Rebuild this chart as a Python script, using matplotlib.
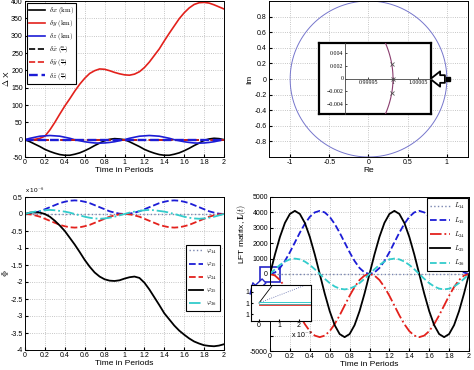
import numpy as np
import matplotlib
matplotlib.use("Agg")
import matplotlib.pyplot as plt
from matplotlib.patches import Rectangle

plt.rcParams["font.family"] = ["Liberation Sans", "DejaVu Sans"]
plt.rcParams["mathtext.fontset"] = "cm"
plt.rcParams["axes.unicode_minus"] = False
plt.rcParams["xtick.direction"] = "in"
plt.rcParams["ytick.direction"] = "in"
plt.rcParams["xtick.labelsize"] = 5
plt.rcParams["ytick.labelsize"] = 5
plt.rcParams["axes.linewidth"] = 0.7

# ---- time grid (periods) ----
t = np.linspace(0, 2, 41)

# ---- top-left: relative position / velocity ----
dx = [0, -6, -13, -20, -28, -34, -39, -43, -45, -45, -42, -38, -32, -25, -17, -10, -3, 1, 3, 2, 0,
      -6, -13, -20, -28, -34, -39, -43, -45, -45, -42, -38, -32, -25, -17, -10, -2, 2, 4, 3, 0]
dy = [0, 0, 1, 4, 10, 28, 50, 74, 97, 118, 140, 160, 177, 191, 199, 204, 203, 199, 194, 190, 187,
      186, 189, 196, 208, 224, 243, 262, 285, 307, 328, 349, 366, 380, 390, 395, 396, 394, 389, 383, 377]
dz = [0, 4, 7, 10, 11, 12, 11, 10, 7, 4, 0, -3, -6, -8, -9.5, -10, -9.5, -8, -6, -3, 0,
      4, 7, 10, 11, 12, 11, 10, 7, 4, 0, -3, -6, -8, -9.5, -10, -9.5, -8, -6, -3, 0]
dvx = [0] * 41
dvy = [0] * 41
dvz = [0] * 41

# ---- bottom-left: phi components (units of 1e-6) ----
phi14 = [0] * 41
phi15 = [0, 0.01, 0.04, 0.08, 0.14, 0.2, 0.26, 0.32, 0.36, 0.39, 0.4, 0.39, 0.36, 0.32, 0.26, 0.2, 0.14, 0.08, 0.04, 0.01, 0,
         0.01, 0.04, 0.08, 0.14, 0.2, 0.26, 0.32, 0.36, 0.39, 0.4, 0.39, 0.36, 0.32, 0.26, 0.2, 0.14, 0.08, 0.04, 0.01, 0]
phi24 = [0, -0.01, -0.04, -0.08, -0.14, -0.2, -0.26, -0.32, -0.36, -0.39, -0.4, -0.39, -0.36, -0.32, -0.26, -0.2, -0.14, -0.08, -0.04, -0.01, 0,
         -0.01, -0.04, -0.08, -0.14, -0.2, -0.26, -0.32, -0.36, -0.39, -0.4, -0.39, -0.36, -0.32, -0.26, -0.2, -0.14, -0.08, -0.04, -0.01, 0]
phi25 = [0, 0.04, 0.05, 0.04, 0.0, -0.08, -0.2, -0.34, -0.5, -0.7, -0.9, -1.12, -1.35, -1.55, -1.72, -1.84, -1.92, -1.96, -1.97, -1.95, -1.9,
         -1.86, -1.84, -1.88, -2.02, -2.22, -2.45, -2.68, -2.92, -3.1, -3.28, -3.43, -3.55, -3.66, -3.75, -3.81, -3.86, -3.88, -3.89, -3.87, -3.83]
phi36 = [0, 0.04, 0.07, 0.09, 0.11, 0.12, 0.11, 0.09, 0.07, 0.04, 0, -0.04, -0.08, -0.11, -0.13, -0.14, -0.13, -0.11, -0.08, -0.04, 0,
         0.04, 0.07, 0.09, 0.11, 0.12, 0.11, 0.09, 0.07, 0.04, 0, -0.04, -0.08, -0.11, -0.13, -0.14, -0.13, -0.11, -0.08, -0.04, 0]
phi_ticks = [-4, -3.5, -3, -2.5, -2, -1.5, -1, -0.5, 0, 0.5]
phi_ticklabels = ["-4", "-3.5", "-3", "-2.5", "-2", "-1.5", "-1", "-0.5", "0", "0.5"]

# ---- bottom-right: LFT matrix entries ----
L14 = [0] * 41
L15 = [0, 100, 390, 845, 1415, 2050, 2685, 3255, 3710, 4000, 4100, 4000, 3710, 3255, 2685, 2050, 1415, 845, 390, 100, 0,
       100, 390, 845, 1415, 2050, 2685, 3255, 3710, 4000, 4100, 4000, 3710, 3255, 2685, 2050, 1415, 845, 390, 100, 0]
L24 = [0, -100, -390, -845, -1415, -2050, -2685, -3255, -3710, -4000, -4100, -4000, -3710, -3255, -2685, -2050, -1415, -845, -390, -100, 0,
       -100, -390, -845, -1415, -2050, -2685, -3255, -3710, -4000, -4100, -4000, -3710, -3255, -2685, -2050, -1415, -845, -390, -100, 0]
L25 = [0, 1270, 2410, 3320, 3900, 4100, 3900, 3320, 2410, 1270, 0, -1270, -2410, -3320, -3900, -4100, -3900, -3320, -2410, -1270, 0,
       1270, 2410, 3320, 3900, 4100, 3900, 3320, 2410, 1270, 0, -1270, -2410, -3320, -3900, -4100, -3900, -3320, -2410, -1270, 0]
L36 = [0, 310, 590, 810, 950, 1000, 950, 810, 590, 310, 0, -310, -590, -810, -950, -1000, -950, -810, -590, -310, 0,
       310, 590, 810, 950, 1000, 950, 810, 590, 310, 0, -310, -590, -810, -950, -1000, -950, -810, -590, -310, 0]
L_ticklabels = ["-5000", "", "", "", "", "0", "1000", "2000", "3000", "4000", "5000"]

# zoomed insert of L near t=0 (x 1e-9)
zoom_x = [0, 2.6]
zoom_black = [0, 6.0]
zoom_dot = [0, 1.75]
zoom_cyan = [0.05, 0.05]
zoom_teal = [-0.1, -0.1]
zoom_red = [-0.2, -0.2]

# eigenvalues near +1 (monodromy)
eig_re = [0.9999974, 1.0, 0.9999974]
eig_im = [0.0023, 0.0, -0.0023]

RED = "#e3211c"
BLUE = "#1c1cd6"
CYAN = "#33cccc"
GRID = dict(ls=":", color="#b4b4b4", lw=0.6)
TICKS_T = ["0", "0.2", "0.4", "0.6", "0.8", "1", "1.2", "1.4", "1.6", "1.8", "2"]
MS = r"(\genfrac{}{}{0.4}{2}{\mathrm{m}}{\mathrm{s}})"
W, H = 474, 370


def box(x0, y0, x1, y1):
    # pixel box (top-left origin) -> figure fraction rect
    return [x0 / W, 1 - y1 / H, (x1 - x0) / W, (y1 - y0) / H]


def frame_legend(ax, **kw):
    leg = ax.legend(fancybox=False, edgecolor="black", framealpha=1, **kw)
    leg.get_frame().set_linewidth(0.8)
    return leg


fig = plt.figure(figsize=(4.74, 3.70), dpi=100)

# ============ top-left ============
ax = fig.add_axes(box(25, 1, 224, 157))
ax.plot(t, dx, color="black", lw=1.2, label=r"$\delta x\ \mathrm{(km)}$")
ax.plot(t, dy, color=RED, lw=1.2, label=r"$\delta y\ \mathrm{(km)}$")
ax.plot(t, dz, color=BLUE, lw=1.2, label=r"$\delta z\ \mathrm{(km)}$")
ax.plot(t, dvx, color="black", lw=1.2, ls="--", label=r"$\delta\dot{x}\ " + MS + "$")
ax.plot(t, dvy, color=RED, lw=1.2, ls="--", label=r"$\delta\dot{y}\ " + MS + "$")
ax.plot(t, dvz, color=BLUE, lw=1.7, ls="--", label=r"$\delta\dot{z}\ " + MS + "$")
ax.set_xlim(0, 2)
ax.set_ylim(-50, 400)
ax.set_xticks(np.arange(0, 2.01, 0.2))
ax.set_xticklabels(TICKS_T)
ax.set_yticks(np.arange(-50, 401, 50))
ax.grid(**GRID)
ax.set_xlabel("Time in Periods", fontsize=6, labelpad=1)
ax.set_ylabel(r"$\Delta$ X", fontsize=6)
ax.yaxis.set_label_coords(-0.07, 0.5)
ax.tick_params(pad=1.5, length=2)
frame_legend(ax, loc="upper left", fontsize=5, handlelength=2.3, borderaxespad=0.3,
             labelspacing=0.3, borderpad=0.3, handletextpad=0.5)

# ============ top-right ============
ax = fig.add_axes(box(269, 1, 468, 157))
th = np.linspace(0, 2 * np.pi, 400)
ax.plot(np.cos(th), np.sin(th), color="#7676cc", lw=0.7)
ax.plot([1.01], [0], "s", color="black", ms=3)
ax.annotate("", xy=(0.79, 0), xytext=(0.975, 0),
            arrowprops=dict(arrowstyle="simple,head_width=1.1,head_length=0.7,tail_width=0.55",
                            fc="white", ec="black", lw=1.3, shrinkA=0, shrinkB=0))
ax.set_xlim(-1.27, 1.27)
ax.set_ylim(-1.0, 1.0)
ax.set_xticks([-1, -0.5, 0, 0.5, 1])
ax.set_xticklabels(["-1", "-0.5", "0", "0.5", "1"])
ax.set_yticks(np.arange(-0.8, 0.81, 0.2))
ax.set_yticklabels(["-0.8", "-0.6", "-0.4", "-0.2", "0", "0.2", "0.4", "0.6", "0.8"])
ax.grid(**GRID)
ax.set_xlabel("Re", fontsize=6, labelpad=1)
ax.set_ylabel("Im", fontsize=6, labelpad=1)
ax.tick_params(pad=1.5, length=2)

# inset frame + zoomed axes
fr = fig.add_axes(box(319, 43, 431, 114))
fr.set_xticks([]); fr.set_yticks([])
for s in fr.spines.values():
    s.set_linewidth(1.6)
ins = fig.add_axes(box(319, 43, 431, 114))
ins.patch.set_alpha(0)
xl, xr = 0.999852, 1.000076
ins.set_xlim(xl, xr)
ins.set_ylim(-0.0055, 0.0055)
yy = np.linspace(-0.0055, 0.0055, 50)
ins.plot(np.sqrt(1 - yy ** 2), yy, color="#8a3d6e", lw=0.8)
ins.plot(eig_re, eig_im, "x", color="#555555", ms=2.2, mew=0.6)
ins.spines["top"].set_visible(False)
ins.spines["right"].set_visible(False)
ins.spines["left"].set_position(("data", 0.999904))
ins.spines["bottom"].set_position(("data", 0))
ins.spines["bottom"].set_bounds(0.999904, xr)
for k in ("left", "bottom"):
    ins.spines[k].set_color("#444444")
    ins.spines[k].set_linewidth(0.6)
ins.set_xticks([0.99995, 1.0, 1.00005])
ins.set_xticklabels(["0.99995", "1", "1.00005"], family="Liberation Serif", fontsize=4.2)
ins.set_yticks([-0.004, -0.002, 0, 0.002, 0.004])
ins.set_yticklabels(["\u22120.004", "\u22120.002", "0", "0.002", "0.004"],
                    family="Liberation Serif", fontsize=4.2)
ins.tick_params(length=1.5, pad=1, width=0.5)

# ============ bottom-left ============
ax = fig.add_axes(box(25, 197, 224, 350))
ax.plot(t, phi14, color="#7a86b0", lw=1.0, ls=":", label=r"$\varphi_{14}$")
ax.plot(t, phi15, color=BLUE, lw=1.3, ls="--", label=r"$\varphi_{15}$")
ax.plot(t, phi24, color=RED, lw=1.3, ls="--", label=r"$\varphi_{24}$")
ax.plot(t, phi25, color="black", lw=1.3, label=r"$\varphi_{25}$")
ax.plot(t, phi36, color=CYAN, lw=1.3, ls="-.", label=r"$\varphi_{36}$")
ax.set_xlim(0, 2)
ax.set_ylim(-4, 0.5)
ax.set_xticks(np.arange(0, 2.01, 0.2))
ax.set_xticklabels(TICKS_T)
ax.set_yticks(phi_ticks)
ax.set_yticklabels(phi_ticklabels)
ax.text(0.0, 1.012, r"x 10$^{-6}$", transform=ax.transAxes, fontsize=4.6, ha="left", va="bottom")
ax.grid(**GRID)
ax.set_xlabel("Time in Periods", fontsize=6, labelpad=1)
ax.set_ylabel(r"$\Phi$", fontsize=6)
ax.yaxis.set_label_coords(-0.07, 0.5)
ax.tick_params(pad=1.5, length=2)
frame_legend(ax, loc="upper left", bbox_to_anchor=(0.79, 0.71), fontsize=4.8, handlelength=2.2,
             labelspacing=0.75, borderpad=0.45, handletextpad=0.4)

# ============ bottom-right ============
ax = fig.add_axes(box(270, 197, 469, 351))
ax.plot(t, L14, color="#7a86b0", lw=1.0, ls=":", label=r"$L_{14}$")
ax.plot(t, L15, color=BLUE, lw=1.3, ls="--", label=r"$L_{15}$")
ax.plot(t, L24, color=RED, lw=1.3, ls="-.", label=r"$L_{24}$")
ax.plot(t, L25, color="black", lw=1.3, label=r"$L_{25}$")
ax.plot(t, L36, color=CYAN, lw=1.3, ls="--", label=r"$L_{36}$")
ax.set_xlim(0, 2)
ax.set_ylim(-5000, 5000)
ax.set_xticks(np.arange(0, 2.01, 0.2))
ax.set_xticklabels(TICKS_T)
ax.set_yticks(np.arange(-5000, 5001, 1000))
ax.set_yticklabels(L_ticklabels)
ax.grid(**GRID)
ax.set_xlabel("Time in Periods", fontsize=6, labelpad=1)
ax.set_ylabel(r"LFT matrix, $\mathbf{L}(t)$", fontsize=6)
ax.yaxis.set_label_coords(-0.11, 0.76)
ax.tick_params(pad=1.5, length=2)
frame_legend(ax, loc="upper right", fontsize=4.8, handlelength=3.0, borderaxespad=0.2,
             labelspacing=0.6, borderpad=0.45, handletextpad=0.6)
ax.add_patch(Rectangle((-0.1, -540), 0.2, 975, fill=False, ec="#2626c8", lw=1.2, clip_on=False))
ax.annotate("", xy=(250 / W, 1 - 294 / H), xytext=(264 / W, 1 - 281 / H),
            xycoords="figure fraction", textcoords="figure fraction",
            arrowprops=dict(arrowstyle="simple,head_width=0.9,head_length=0.7,tail_width=0.4",
                            fc="white", ec="#2626c8", lw=1.0, shrinkA=0, shrinkB=0))

# zoomed insert near t = 0
zi = fig.add_axes(box(251, 285, 311, 321))
zi.plot(zoom_x, zoom_black, color="black", lw=0.6)
zi.plot(zoom_x, zoom_dot, color="#5a66a8", lw=0.6, ls=":")
zi.plot(zoom_x, zoom_cyan, color=CYAN, lw=0.7)
zi.plot(zoom_x, zoom_teal, color="#4b8a8a", lw=0.6)
zi.plot(zoom_x, zoom_red, color=RED, lw=0.6)
zi.set_xlim(-0.4, 2.6)
zi.set_ylim(-1.57, 1.57)
zi.set_xticks([0, 1, 2])
zi.set_yticks([-1, 0, 1])
zi.set_yticklabels(["1", "1", "1"])
zi.tick_params(labelsize=5, length=1.5, pad=1)
for s in zi.spines.values():
    s.set_linewidth(0.8)
fig.text(302 / W, 1 - 335 / H, r"x 10$^{-9}$", fontsize=5, ha="center", va="center")

fig.savefig("out.png", dpi=100)
